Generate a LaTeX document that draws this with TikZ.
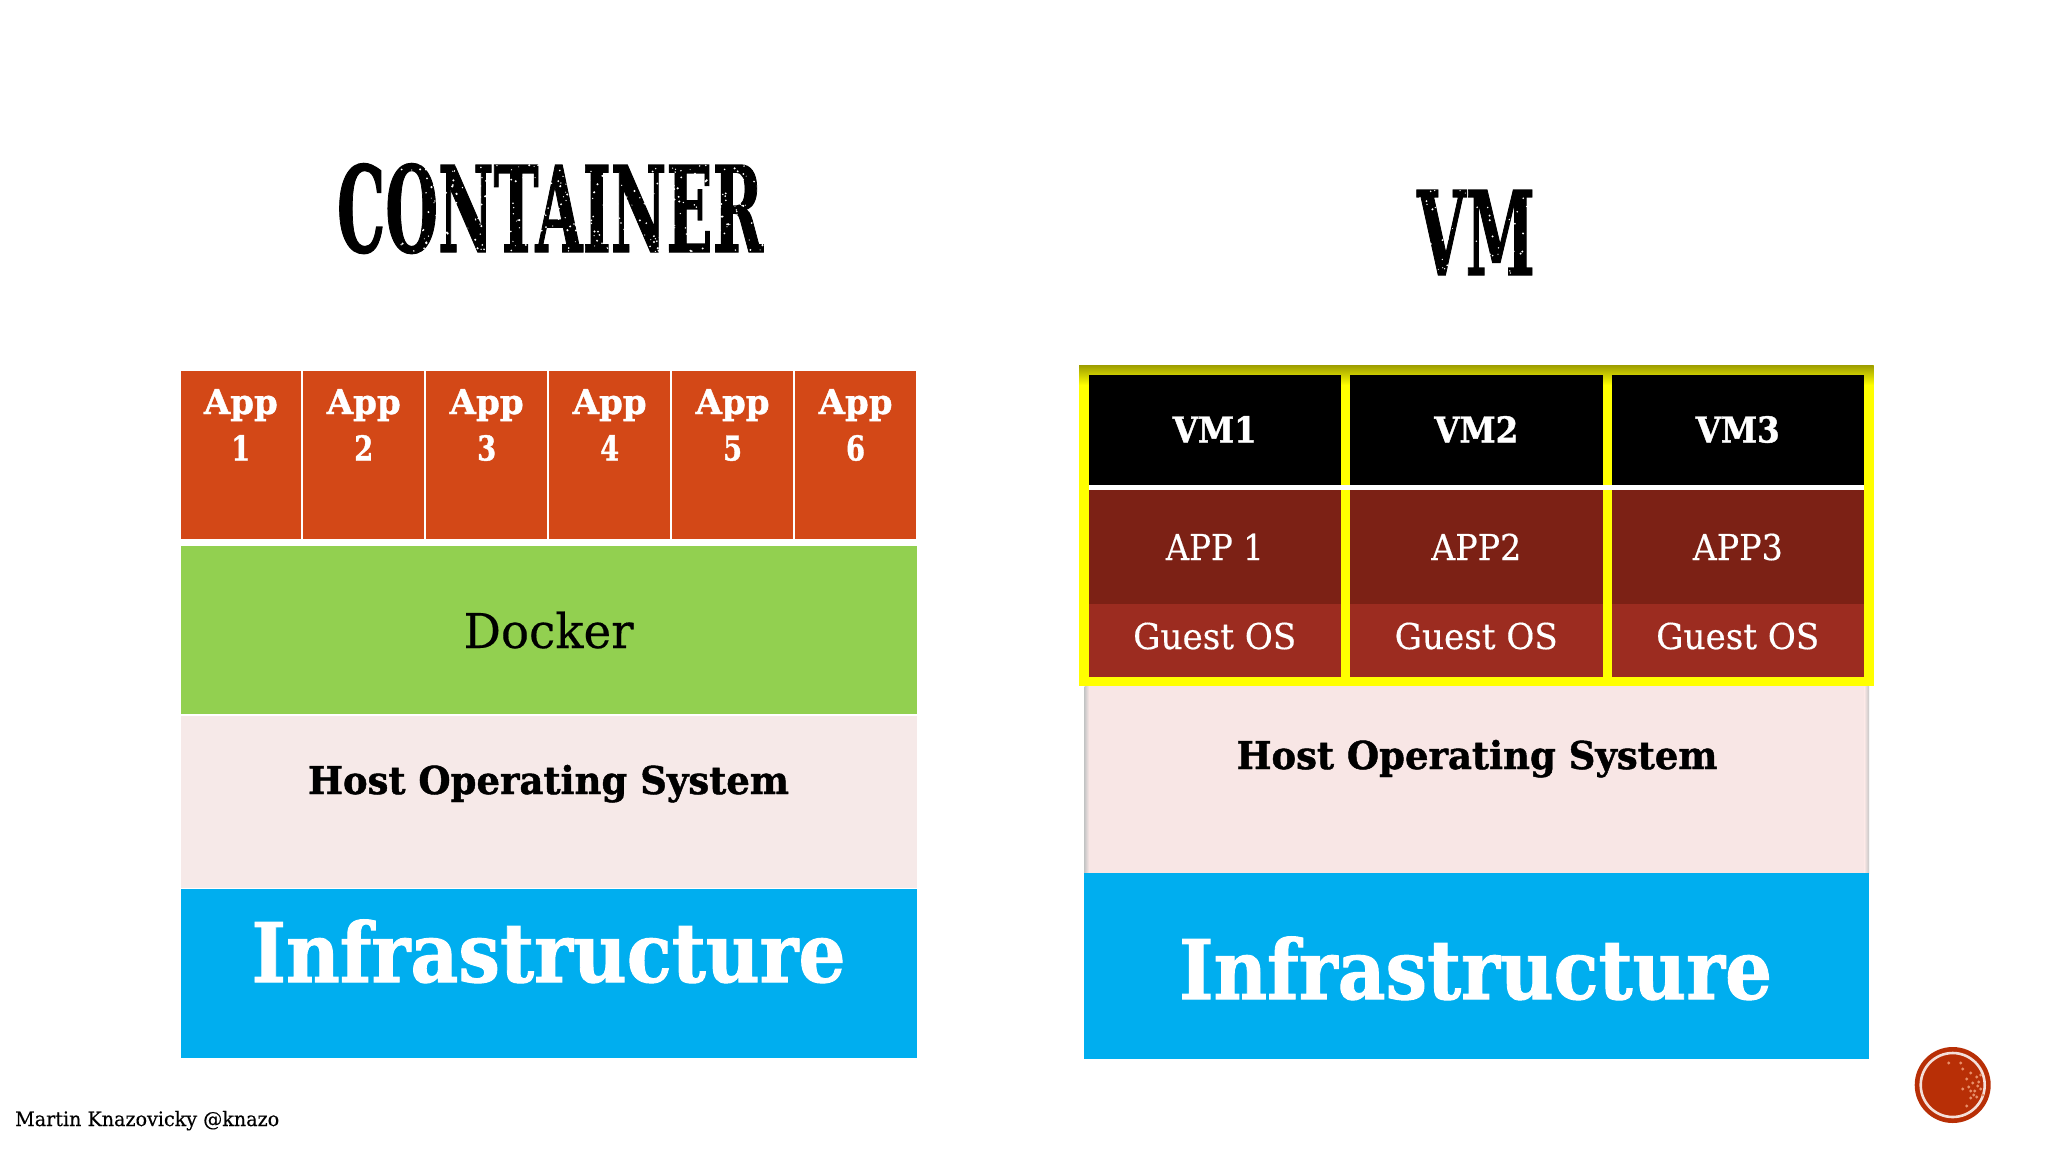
\documentclass[tikz,border=0pt]{standalone}
\usepackage{fontspec}
\usepackage{graphicx}
\setmainfont{DejaVu Serif}[UprightFeatures={FakeBold=0.35},BoldFeatures={FakeBold=1.2}]
\usetikzlibrary{calc}
\definecolor{appred}{HTML}{D34817}
\definecolor{dockgreen}{HTML}{92D050}
\definecolor{hostpink}{HTML}{F6E9E8}
\definecolor{hostpinkb}{HTML}{F8E6E5}
\definecolor{infrablue}{HTML}{00AEEF}
\definecolor{appdark}{HTML}{7C2115}
\definecolor{guestred}{HTML}{9C2C20}
\definecolor{vmyellow}{HTML}{FFFF00}
\definecolor{olive}{HTML}{9C9C00}
\definecolor{dotred}{HTML}{B82F06}
\definecolor{speck}{HTML}{E8906A}
% #1 target width in px, #2 cap height in px, #3 text
\newcommand{\fitted}[3]{\fontsize{\fpeval{#2/0.729}pt}{\fpeval{#2/0.729}pt}\selectfont\resizebox{#1pt}{\height}{#3}}
\tikzset{
  lbl/.style={anchor=base,inner sep=0pt,outer sep=0pt},
  wlbl/.style={lbl,text=white},
  blbl/.style={lbl,text=black},
}
\begin{document}
\begin{tikzpicture}[x=1pt,y=-1pt]
\useasboundingbox (0,0) rectangle (2048,1152);
\fill[white] (0,0) rectangle (2048,1152);

% titles
\node[blbl] (titlec) at (550,252) {\fitted{426}{87}{\bfseries CONTAINER}};
\node[blbl] (titlev) at (1476,275) {\fitted{118}{85}{\bfseries VM}};
% distressed print on the titles
\pgfmathsetseed{4711}
\foreach \k in {1,...,420}{
  \pgfmathsetmacro{\sx}{400+363*rnd}
  \pgfmathsetmacro{\sy}{165+87*rnd}
  \pgfmathsetmacro{\sr}{0.5+0.7*rnd}
  \fill[white] (\sx,\sy) circle (\sr);
}
\foreach \k in {1,...,70}{
  \pgfmathsetmacro{\sx}{1417+118*rnd}
  \pgfmathsetmacro{\sy}{190+85*rnd}
  \pgfmathsetmacro{\sr}{0.5+0.6*rnd}
  \fill[white] (\sx,\sy) circle (\sr);
}

% left stack
\foreach \i in {1,...,6}{
  \pgfmathsetmacro{\xa}{180.5+(\i-1)*122.95}
  \pgfmathsetmacro{\xb}{\xa+120.6}
  \fill[appred] (\xa,371) rectangle (\xb,539);
  \node[wlbl] (appa\i) at ({(\xa+\xb)/2},414) {\fitted{74}{25}{\bfseries App}};
  \node[wlbl] (appb\i) at ({(\xa+\xb)/2},460.5) {\fitted{19}{25}{\bfseries \i}};
}
\fill[dockgreen] (180.5,546) rectangle (916.5,714);
\node[blbl] (docker) at (548.5,648) {\fitted{170}{35}{Docker}};
\fill[hostpink] (180.5,716) rectangle (916.5,888);
\node[blbl] (hostl) at (548.5,794) {\fitted{481}{28}{\bfseries Host Operating System}};
\fill[infrablue] (180.5,889) rectangle (916.5,1058);
\node[wlbl] (infral) at (548.5,982) {\fitted{594}{60}{\bfseries Infrastructure}};

% right stack
\fill[hostpinkb] (1084.5,686) rectangle (1869,873);
\shade[left color=black!22,right color=hostpinkb] (1084.5,686) rectangle (1089,873);
\shade[left color=hostpinkb,right color=black!22] (1864.5,686) rectangle (1869,873);
\node[blbl] (hostr) at (1477,769) {\fitted{481}{28}{\bfseries Host Operating System}};
\fill[infrablue] (1084,873) rectangle (1869,1059);
\node[wlbl] (infrar) at (1475.5,999) {\fitted{593}{60}{\bfseries Infrastructure}};

% yellow frame
\fill[vmyellow] (1079,365) rectangle (1873.5,686);
\shade[top color=olive,bottom color=vmyellow] (1079,365) rectangle (1873.5,385);
\foreach \i/\xa/\xb/\app/\appw in {1/1088.5/1341/{APP 1}/98,2/1350/1602.5/APP2/90,3/1611.5/1864/APP3/90}{
  \fill[black] (\xa,375) rectangle (\xb,485);
  \fill[white] (\xa,485) rectangle (\xb,489.5);
  \fill[appdark] (\xa,489.5) rectangle (\xb,604);
  \fill[guestred] (\xa,604) rectangle (\xb,676.5);
  \node[wlbl] (vm\i) at ({(\xa+\xb)/2},442.5) {\fitted{84}{26}{\bfseries VM\i}};
  \node[wlbl] (vmapp\i) at ({(\xa+\xb)/2},560) {\fitted{\appw}{26}{\app}};
  \node[wlbl] (guest\i) at ({(\xa+\xb)/2},649) {\fitted{163}{26}{Guest OS}};
}
\fill[white] (1341,485) rectangle (1350,489.5);
\fill[white] (1602.5,485) rectangle (1611.5,489.5);

% footer
\node[anchor=base west,inner sep=0pt,text=black] (credit) at (15,1126) {\fitted{264}{14.5}{Martin Knazovicky @knazo}};

% badge
\coordinate (badge) at (1952.7,1085);
\fill[dotred] (badge) circle (38);
\draw[white!85!dotred,line width=2.6pt] (badge) circle (32);
\foreach \dx/\dy in {10/-16,18/-12,24/-8,14/-6,20/-2,26/-3,28/4,22/6,16/2,10/4,24/12,18/13,28/-10,30/10,14/21,-4/-22,8/-22,21/10,25/1,18/6}{
  \fill[speck] ($(badge)+(\dx,\dy)$) circle (1.7);
}
\end{tikzpicture}
\end{document}
